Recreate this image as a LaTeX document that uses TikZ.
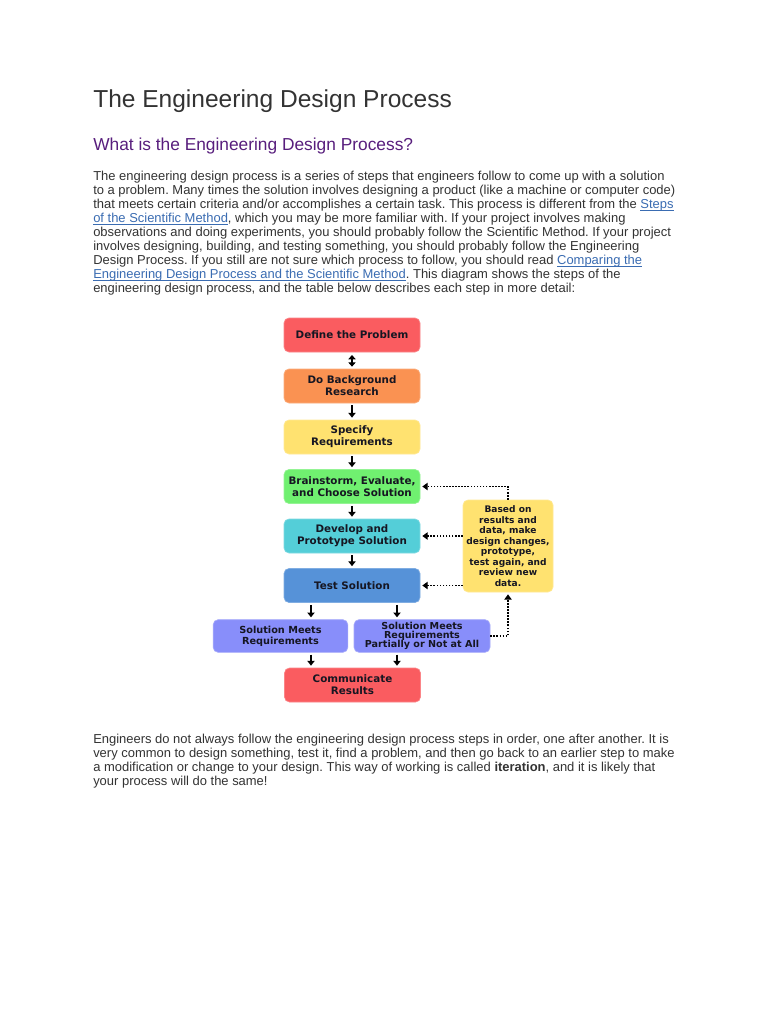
\documentclass[tikz,border=0pt]{standalone}
\usepackage{fontspec}
\setmainfont{Liberation Sans}
\newfontfamily\boxfont{DejaVu Sans}
\usetikzlibrary{arrows.meta}
\frenchspacing
\definecolor{txtgray}{RGB}{51,51,51}
\definecolor{linkblue}{RGB}{58,108,178}
\definecolor{subpurple}{RGB}{88,30,125}
\definecolor{cred}{RGB}{250,92,96}
\definecolor{corange}{RGB}{250,146,82}
\definecolor{cyellow}{RGB}{255,226,112}
\definecolor{cgreen}{RGB}{112,240,112}
\definecolor{ccyan}{RGB}{84,206,216}
\definecolor{cblue}{RGB}{86,146,216}
\definecolor{cperi}{RGB}{136,142,250}
\definecolor{boxtext}{RGB}{22,22,34}
\newcommand\weblink[1]{{\color{linkblue}\setbox0\hbox{#1}\rlap{\rule[-2.2pt]{\wd0}{0.55pt}}\box0}}
\tikzset{
  bodyline/.style={anchor=base west, inner sep=0pt, text=txtgray, font=\frenchspacing\fontsize{9.72}{11}\selectfont},
  flowbox/.style={rounded corners=3.75pt, fill=#1, draw=#1!75!white, line width=0.5pt,
    minimum width=102pt, minimum height=25.5pt, inner sep=1pt, align=center, text=boxtext,
    font=\boxfont\bfseries\fontsize{7.75}{9}\selectfont},
  arr/.style={line width=1.5pt, -{Triangle[length=3.6pt,width=5.4pt]}, shorten <=1.5pt, shorten >=1.5pt},
  darr/.style={line width=1.5pt, {Triangle[length=3.2pt,width=5.4pt]}-{Triangle[length=3.2pt,width=5.4pt]}, shorten <=2pt, shorten >=1.5pt},
  dotarr/.style={line width=1.2pt, dash pattern=on 1.2pt off 1.1pt, -{Triangle[length=4pt,width=5.5pt]}, shorten >=1.5pt},
}
\begin{document}
\begin{tikzpicture}[x=0.75pt, y=-0.75pt]
\path[use as bounding box, fill=white] (0,0) rectangle (768,1024);

% headings
\node (title) [anchor=base west, inner sep=0pt, text=txtgray, font=\fontsize{18.4}{21}\selectfont] at (93,108) {The Engineering Design Process};
\node (subtitle) [anchor=base west, inner sep=0pt, text=subpurple, font=\fontsize{13}{15}\selectfont] at (93,150.5) {What is the Engineering Design Process?};

% first paragraph
\node (p1) [bodyline] at (93,180) {The engineering design process is a series of steps that engineers follow to come up with a solution};
\node (p2) [bodyline] at (93,194) {to a problem. Many times the solution involves designing a product (like a machine or computer code)};
\node (p3) [bodyline] at (93,208) {that meets certain criteria and/or accomplishes a certain task. This process is different from the \weblink{Steps}};
\node (p4) [bodyline] at (93,222) {\weblink{of the Scientific Method}, which you may be more familiar with. If your project involves making};
\node (p5) [bodyline] at (93,236) {observations and doing experiments, you should probably follow the Scientific Method. If your project};
\node (p6) [bodyline] at (93,250) {involves designing, building, and testing something, you should probably follow the Engineering};
\node (p7) [bodyline] at (93,264) {Design Process. If you still are not sure which process to follow, you should read \weblink{Comparing the}};
\node (p8) [bodyline] at (93,278) {\weblink{Engineering Design Process and the Scientific Method}. This diagram shows the steps of the};
\node (p9) [bodyline] at (93,292) {engineering design process, and the table below describes each step in more detail:};

% flow chart boxes
\node (define) [flowbox=cred] at (352,335) {Define the Problem};
\node (research) [flowbox=corange] at (352,386) {Do Background\\Research};
\node (spec) [flowbox=cyellow] at (352,437) {Specify\\Requirements};
\node (brain) [flowbox=cgreen] at (352,486.5) {Brainstorm, Evaluate,\\and Choose Solution};
\node (develop) [flowbox=ccyan] at (352,536) {Develop and\\Prototype Solution};
\node (test) [flowbox=cblue] at (352,585.5) {Test Solution};
\node (meets) [flowbox=cperi, minimum width=101pt, minimum height=24.5pt, font=\boxfont\bfseries\fontsize{7.3}{8.5}\selectfont] at (280.5,636) {Solution Meets\\Requirements};
\node (partial) [flowbox=cperi, minimum width=102pt, minimum height=24.5pt, font=\boxfont\bfseries\fontsize{7.2}{7}\selectfont] at (422,636) {Solution Meets\\Requirements\\Partially or Not at All};
\node (comm) [flowbox=cred] at (352.5,685) {Communicate\\Results};
\node (side) [flowbox=cyellow, minimum width=67.5pt, minimum height=69pt, font=\boxfont\bfseries\fontsize{6.8}{7.9}\selectfont] at (508,546) {Based on\\results and\\data, make\\design changes,\\prototype,\\test again, and\\review new\\data.};

% connectors
\coordinate (lx) at (311,0);
\coordinate (rx) at (397,0);
\draw[darr] (define.south) -- (research.north);
\draw[arr] (research.south) -- (spec.north);
\draw[arr] (spec.south) -- (brain.north);
\draw[arr] (brain.south) -- (develop.north);
\draw[arr] (develop.south) -- (test.north);
\draw[arr] (test.south -| lx) -- (meets.north -| lx);
\draw[arr] (test.south -| rx) -- (partial.north -| rx);
\draw[arr] (meets.south -| lx) -- (comm.north -| lx);
\draw[arr] (partial.south -| rx) -- (comm.north -| rx);

\draw[dotarr] (side.north) |- (brain.east);
\draw[dotarr] (side.west |- develop.east) -- (develop.east);
\draw[dotarr] (side.west |- test.east) -- (test.east);
\draw[dotarr] (partial.east) -| (side.south);

% second paragraph
\node (q1) [bodyline] at (93,743) {Engineers do not always follow the engineering design process steps in order, one after another. It is};
\node (q2) [bodyline] at (93,757) {very common to design something, test it, find a problem, and then go back to an earlier step to make};
\node (q3) [bodyline] at (93,771) {a modification or change to your design. This way of working is called \textbf{iteration}, and it is likely that};
\node (q4) [bodyline] at (93,785) {your process will do the same!};
\end{tikzpicture}
\end{document}
